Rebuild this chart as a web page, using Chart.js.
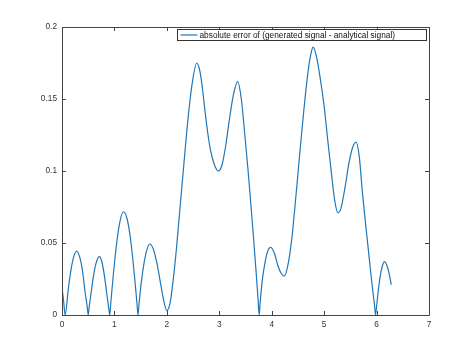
<!doctype html>
<html>
  <head>
    <meta charset="utf-8">
    <title>absolute error</title>
    <script src="https://cdn.jsdelivr.net/npm/chart.js@4"></script>
    <style>
      html, body { margin: 0; padding: 0; background: #fff; }
      #wrap { width: 474px; height: 354px; }
    </style>
  </head>
  <body>
  <div id="wrap"><canvas id="myChart" width="474" height="354"></canvas></div>
  <script>
    // values
    const xValues = [
      0, 0.03, 0.06,
      0.12, 0.17, 0.22, 0.28, 0.34, 0.39, 0.44, 0.48, 0.50,
      0.52, 0.55, 0.60, 0.65, 0.71, 0.76, 0.81, 0.86, 0.89, 0.91,
      0.93, 0.97, 1.03, 1.10, 1.17, 1.24, 1.31, 1.38, 1.43, 1.45,
      1.47, 1.51, 1.56, 1.61, 1.67, 1.74, 1.81, 1.88, 1.94, 2.00,
      2.06, 2.12, 2.18, 2.25, 2.32, 2.40, 2.48, 2.57,
      2.62, 2.67, 2.72, 2.77, 2.83, 2.90, 2.98,
      3.05, 3.12, 3.19, 3.27, 3.35,
      3.42, 3.49, 3.55, 3.60, 3.65, 3.70, 3.74, 3.76,
      3.78, 3.82, 3.87, 3.92, 3.98, 4.05, 4.12, 4.18, 4.24,
      4.30, 4.38, 4.44, 4.50, 4.56, 4.62, 4.69, 4.74, 4.79,
      4.85, 4.91, 5.00, 5.07, 5.14, 5.20, 5.26,
      5.32, 5.40, 5.47, 5.54, 5.61,
      5.67, 5.73, 5.80, 5.87, 5.93, 5.96, 5.98,
      6.00, 6.03, 6.07, 6.11, 6.15, 6.20, 6.25, 6.28
    ];
    const errorValues = [
      0.019, 0.010, 0,
      0.018, 0.031, 0.040, 0.0444, 0.040, 0.031, 0.016, 0.006, 0,
      0.006, 0.014, 0.027, 0.036, 0.0405, 0.037, 0.027, 0.013, 0.005, 0,
      0.008, 0.0245, 0.046, 0.064, 0.0717, 0.067, 0.052, 0.028, 0.008, 0,
      0.008, 0.022, 0.035, 0.044, 0.0493, 0.046, 0.036, 0.022, 0.010, 0.003,
      0.008, 0.024, 0.045, 0.074, 0.103, 0.135, 0.160, 0.175,
      0.171, 0.160, 0.144, 0.129, 0.115, 0.105, 0.100,
      0.104, 0.117, 0.135, 0.153, 0.162,
      0.150, 0.124, 0.100, 0.078, 0.055, 0.031, 0.011, 0,
      0.009, 0.024, 0.036, 0.044, 0.047, 0.043, 0.034, 0.029, 0.027,
      0.033, 0.052, 0.074, 0.098, 0.122, 0.145, 0.168, 0.180, 0.186,
      0.180, 0.168, 0.145, 0.121, 0.098, 0.080, 0.071,
      0.074, 0.089, 0.105, 0.116, 0.120,
      0.110, 0.085, 0.060, 0.036, 0.016, 0.007, 0,
      0.006, 0.016, 0.027, 0.034, 0.037, 0.034, 0.027, 0.021
    ];
    const xTicks = [0, 1, 2, 3, 4, 5, 6, 7];
    const yTicks = [0, 0.05, 0.1, 0.15, 0.2];
    const yTickLabels = ['0', '0.05', '0.1', '0.15', '0.2'];
    const seriesLabel = 'absolute error of (generated signal - analytical signal)';

    const axisColor = '#444';
    const textColor = '#333';
    const fontFamily = '"Liberation Sans", Arial, Helvetica, sans-serif';

    // box around the axes with inward ticks, plus the octave-style legend
    const boxPlugin = {
      id: 'box',
      afterDraw: (chart) => {
        const c = chart.ctx;
        const a = chart.chartArea;
        const xs = chart.scales.x;
        const ys = chart.scales.y;
        const tl = 4;
        c.save();
        c.strokeStyle = axisColor;
        c.lineWidth = 1;
        c.beginPath();
        c.rect(Math.round(a.left) + 0.5, Math.round(a.top) + 0.5,
               Math.round(a.right - a.left), Math.round(a.bottom - a.top));
        xTicks.forEach(v => {
          const px = Math.round(xs.getPixelForValue(v)) + 0.5;
          c.moveTo(px, a.bottom); c.lineTo(px, a.bottom - tl);
          c.moveTo(px, a.top); c.lineTo(px, a.top + tl);
        });
        yTicks.forEach(v => {
          const py = Math.round(ys.getPixelForValue(v)) + 0.5;
          c.moveTo(a.left, py); c.lineTo(a.left + tl, py);
          c.moveTo(a.right, py); c.lineTo(a.right - tl, py);
        });
        c.stroke();

        // legend
        const lx = 177.5, ly = 29.5, lw = 249, lh = 11;
        c.fillStyle = '#fff';
        c.fillRect(lx, ly, lw, lh);
        c.strokeStyle = '#333';
        c.strokeRect(lx, ly, lw, lh);
        c.strokeStyle = chart.data.datasets[0].borderColor;
        c.lineWidth = 1.2;
        c.beginPath();
        c.moveTo(lx + 3, ly + lh / 2);
        c.lineTo(lx + 20, ly + lh / 2);
        c.stroke();
        c.fillStyle = '#111';
        c.font = '8.3px ' + fontFamily;
        c.textBaseline = 'middle';
        c.fillText(chart.data.datasets[0].label, lx + 22, ly + lh / 2 + 0.5);
        c.restore();
      }
    };

    const ctx = document.getElementById('myChart').getContext('2d');
    const myChart = new Chart(ctx, {
      type: 'scatter',
      data: {
        datasets: [
          {
            label: seriesLabel,
            data: xValues.map((x, i) => ({x: x, y: errorValues[i]})),
            showLine: true,
            borderColor: '#1f77b8',
            borderWidth: 1.2,
            pointRadius: 0,
            cubicInterpolationMode: 'monotone',
          },
        ]
      },
      options: {
        responsive: false,
        animation: false,
        layout: { padding: { top: 27, right: 45, left: 0, bottom: 0 } },
        scales: {
          x: {
            type: 'linear',
            min: 0,
            max: 7,
            afterBuildTicks: (axis) => { axis.ticks = xTicks.map(v => ({value: v})); },
            afterFit: (axis) => { axis.height = 39; },
            grid: { display: false, drawTicks: false },
            border: { display: false },
            ticks: { color: textColor, padding: 5, font: { family: fontFamily, size: 8.3 } }
          },
          y: {
            min: 0,
            max: 0.2,
            afterBuildTicks: (axis) => { axis.ticks = yTicks.map(v => ({value: v})); },
            afterFit: (axis) => { axis.width = 62; },
            grid: { display: false, drawTicks: false },
            border: { display: false },
            ticks: {
              color: textColor,
              padding: 5,
              font: { family: fontFamily, size: 8.3 },
              callback: (value, index) => yTickLabels[index]
            }
          }
        },
        plugins: {
          legend: { display: false },
          tooltip: { enabled: false }
        }
      },
      plugins: [boxPlugin]
    });
  </script>
  </body>
</html>
